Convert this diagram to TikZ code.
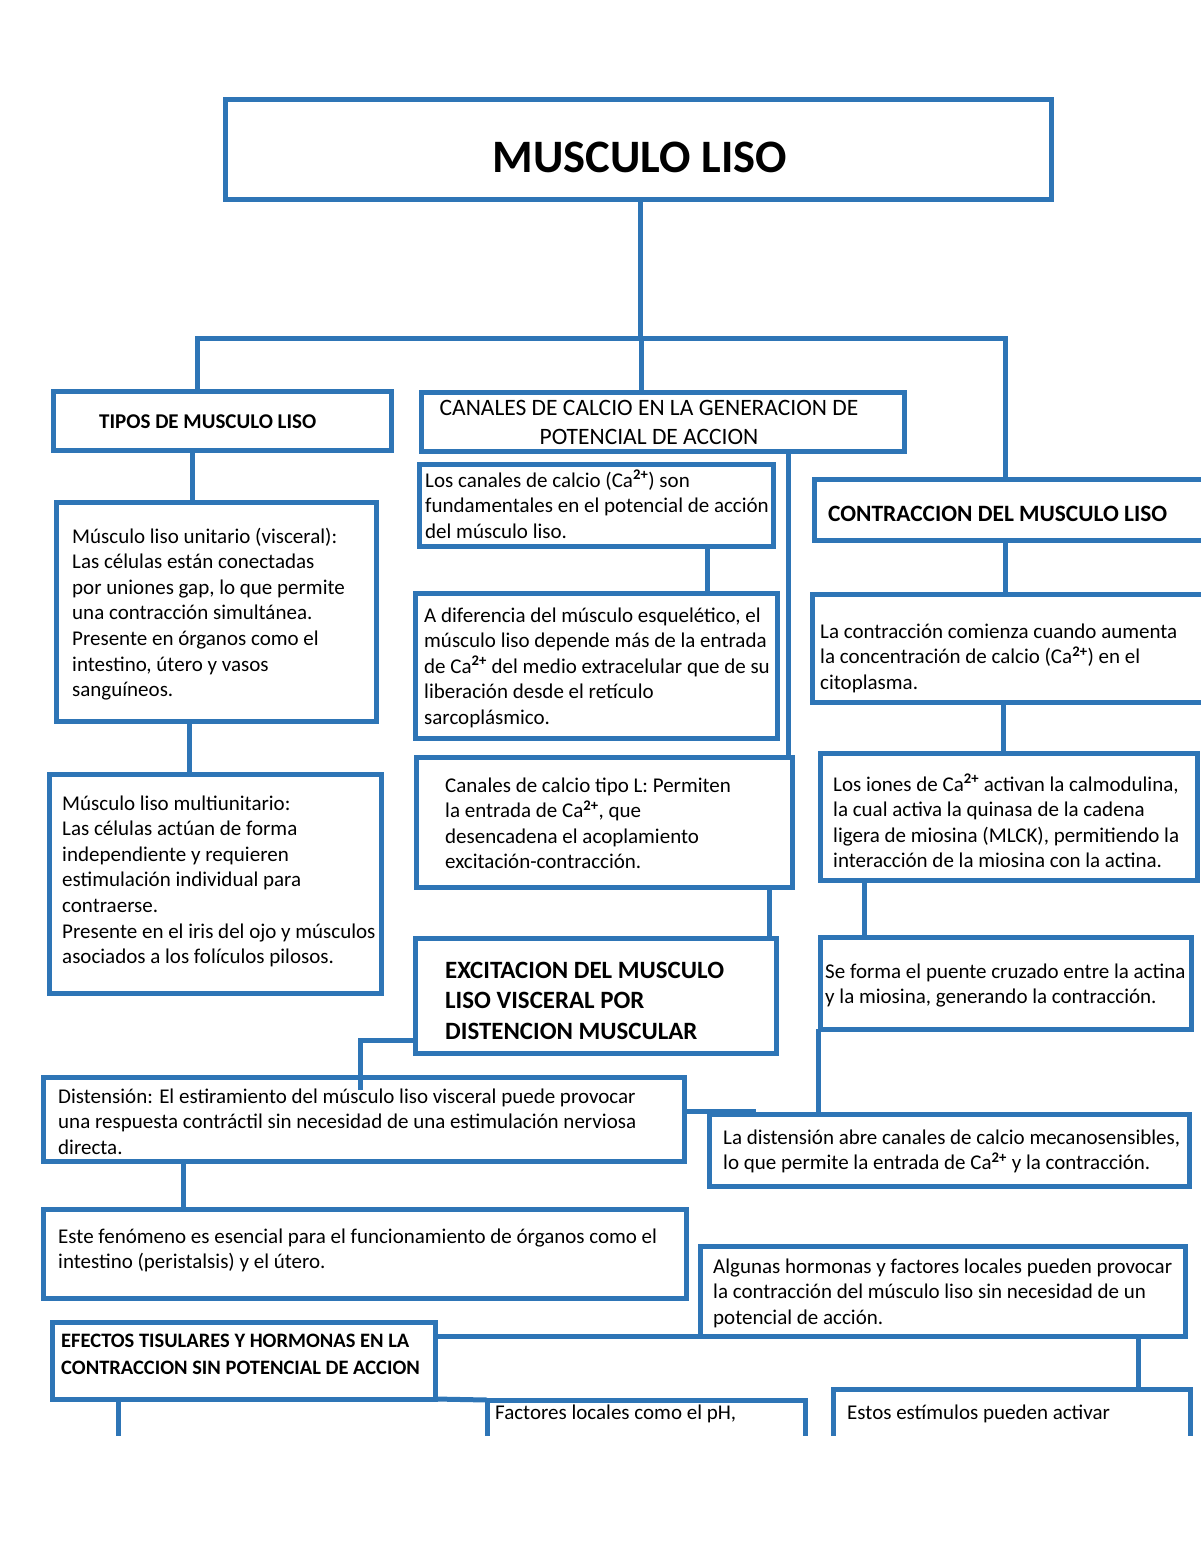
\documentclass[tikz,border=0pt]{standalone}
\usepackage{fontspec}
\setmainfont{Carlito}
\definecolor{bl}{RGB}{46,117,182}
\newcommand\fbody{\fontsize{21}{25.6}\selectfont}
\newcommand\bx[5]{\node[box, minimum width={#4pt-#2pt}, minimum height={#5pt-#3pt}, anchor=north west] (#1) at (#2,#3) {};}
\newcommand\tx[5]{\node[anchor=base west, inner sep=0pt, font=#2] (#1) at (#3,#4) {\parbox[t]{600pt}{\raggedright #5}};}
\newcommand\sq{\textsuperscript{\textbf{2+}}}
\begin{document}
\begin{tikzpicture}[x=1pt,y=-1pt,
  box/.style={draw=bl, line width=5pt, rectangle, inner sep=0pt, outer sep=0pt},
  conn/.style={draw=bl, line width=5pt}]
\useasboundingbox (0,0) rectangle (1200,1553);
\begin{scope}
\clip (-20,-20) rectangle (1220,1435);
% boxes
\bx{title}{225}{99}{1051}{199}
\bx{tipos}{53}{391}{391}{450}
\bx{canales}{421}{392}{904}{451}
\bx{contr}{814}{479}{1215}{540}
\bx{unit}{56}{502}{376}{721}
\bx{multi}{49}{774}{381}{993}
\bx{c1}{419}{464}{773}{546}
\bx{c2}{415}{593}{777}{738}
\bx{c3}{416}{757}{792}{887}
\bx{excit}{415}{938}{776}{1053}
\bx{r1}{812}{594}{1215}{702}
\bx{r2}{820}{753}{1197}{880}
\bx{r3}{820}{937}{1191}{1029}
\bx{dist}{43}{1077}{684}{1161}
\bx{r4}{709}{1114}{1189}{1186}
\bx{este}{43}{1209}{686}{1298}
\bx{algunas}{700}{1246}{1185}{1336}
\bx{efectos}{52}{1322}{435}{1399}
\bx{factores}{487}{1400}{805}{1520}
\bx{estos}{833}{1389}{1190}{1520}
% connectors
\coordinate (hub) at (640,338);
\coordinate (dend) at (360,1090);
\coordinate (r4end) at (756,1111);
\coordinate (efend) at (118,1445);
\draw[conn] (640,0 |- title.south) -- (hub);
\draw[conn] (197,0 |- tipos.north) |- (hub) -| (1005,0 |- contr.north);
\draw[conn] (641,0 |- hub) -- (641,0 |- canales.north);
\draw[conn] (192,0 |- tipos.south) -- (192,0 |- unit.north);
\draw[conn] (189,0 |- unit.south) -- (189,0 |- multi.north);
\draw[conn] (788,0 |- canales.south) -- (788,0 |- c3.north);
\draw[conn] (707,0 |- c1.south) -- (707,0 |- c2.north);
\draw[conn] (769,0 |- c3.south) -- (769,0 |- excit.north);
\draw[conn] (excit.west |- 0,1040) -| (dend);
\draw[conn] (dist.east |- r4end) -- (r4end);
\draw[conn] (818,0 |- r3.south) -- (818,0 |- r4.north);
\draw[conn] (183,0 |- dist.south) -- (183,0 |- este.north);
\draw[conn] (efectos.east |- algunas.south) -- (algunas.south west);
\draw[conn] (1138,0 |- algunas.south) -- (1138,0 |- estos.north);
\draw[conn] (efectos.south east) -- (factores.north west);
\draw[conn] (118,0 |- efectos.south) -- (efend);
\draw[conn] (1005,0 |- contr.south) -- (1005,0 |- r1.north);
\draw[conn] (1003,0 |- r1.south) -- (1003,0 |- r2.north);
\draw[conn] (864,0 |- r2.south) -- (864,0 |- r3.north);
% texts
\node[anchor=base, inner sep=0pt, font=\fontsize{46.5}{50}\selectfont\bfseries] (ttitle) at (640,172) {MUSCULO LISO};
\tx{ttipos}{\fontsize{21}{25}\selectfont\bfseries}{99}{428}{TIPOS DE MUSCULO LISO}
\node[anchor=base, inner sep=0pt, font=\fontsize{23.5}{29}\selectfont] (tcanales) at (649,415) {\parbox[t]{480pt}{\centering CANALES DE CALCIO EN LA GENERACION DE\\POTENCIAL DE ACCION}};
\tx{tcontr}{\fontsize{23.4}{26}\selectfont\bfseries}{828}{521}{CONTRACCION DEL MUSCULO LISO}
\tx{tunit}{\fbody}{72}{543}{Músculo liso unitario (visceral):\\Las células están conectadas\\por uniones gap, lo que permite\\una contracción simultánea.\\Presente en órganos como el\\intestino, útero y vasos\\sanguíneos.}
\tx{tmulti}{\fbody}{62}{810}{Músculo liso multiunitario:\\Las células actúan de forma\\independiente y requieren\\estimulación individual para\\contraerse.\\Presente en el iris del ojo y músculos\\asociados a los folículos pilosos.}
\tx{tc1}{\fbody}{425}{487}{Los canales de calcio (Ca\sq) son\\fundamentales en el potencial de acción\\del músculo liso.}
\tx{tc2}{\fbody}{424}{622}{A diferencia del músculo esquelético, el\\músculo liso depende más de la entrada\\de Ca\sq{} del medio extracelular que de su\\liberación desde el retículo\\sarcoplásmico.}
\tx{tc3}{\fbody}{445}{792}{Canales de calcio tipo L: Permiten\\la entrada de Ca\sq, que\\desencadena el acoplamiento\\excitación-contracción.}
\tx{texcit}{\fontsize{24.9}{30.5}\selectfont\bfseries}{445}{978}{EXCITACION DEL MUSCULO\\LISO VISCERAL POR\\DISTENCION MUSCULAR}
\tx{tr1}{\fbody}{820}{638}{La contracción comienza cuando aumenta\\la concentración de calcio (Ca\sq) en el\\citoplasma.}
\tx{tr2}{\fbody}{833}{791}{Los iones de Ca\sq{} activan la calmodulina,\\la cual activa la quinasa de la cadena\\ligera de miosina (MLCK), permitiendo la\\interacción de la miosina con la actina.}
\tx{tr3}{\fbody}{825}{978}{Se forma el puente cruzado entre la actina\\y la miosina, generando la contracción.}
\tx{tdist}{\fbody}{58}{1103}{Distensión: El estiramiento del músculo liso visceral puede provocar\\una respuesta contráctil sin necesidad de una estimulación nerviosa\\directa.}
\tx{tr4}{\fbody}{723}{1144}{La distensión abre canales de calcio mecanosensibles,\\lo que permite la entrada de Ca\sq{} y la contracción.}
\tx{teste}{\fbody}{58}{1243}{Este fenómeno es esencial para el funcionamiento de órganos como el\\intestino (peristalsis) y el útero.}
\tx{talgunas}{\fbody}{713}{1273}{Algunas hormonas y factores locales pueden provocar\\la contracción del músculo liso sin necesidad de un\\potencial de acción.}
\tx{tefectos}{\fontsize{20.5}{27}\selectfont\bfseries}{61}{1347}{EFECTOS TISULARES Y HORMONAS EN LA\\CONTRACCION SIN POTENCIAL DE ACCION}
\tx{tfactores}{\fbody}{495}{1419}{Factores locales como el pH,}
\tx{testos}{\fbody}{847}{1419}{Estos estímulos pueden activar}
\end{scope}
\end{tikzpicture}
\end{document}
